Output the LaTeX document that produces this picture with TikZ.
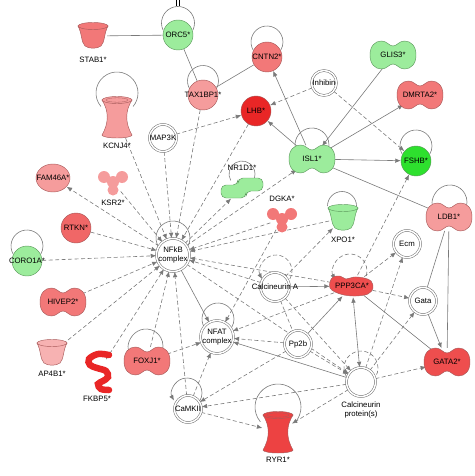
\documentclass[tikz,border=0pt]{standalone}
\usepackage{fontspec}
\setmainfont{Liberation Sans}
\usetikzlibrary{arrows.meta,shapes.geometric,calc}
\pgfdeclarelayer{background}
\pgfsetlayers{background,main}

\definecolor{edgegray}{HTML}{7A7A7A}
\definecolor{hubline}{HTML}{6E6E6E}
\definecolor{redline}{HTML}{A85A5A}
\definecolor{greenline}{HTML}{5E9A5E}
\definecolor{upA}{HTML}{F7B2B2}
\definecolor{upB}{HTML}{F59C9C}
\definecolor{upC}{HTML}{F27878}
\definecolor{upD}{HTML}{EE4E4E}
\definecolor{upE}{HTML}{E92626}
\definecolor{dnA}{HTML}{9CEC9C}
\definecolor{dnB}{HTML}{2EE02E}

\newcommand{\ov}[1]{\makebox[0pt]{#1}}

\tikzset{
    peanut/.pic={\path[pic actions] (-23,0) .. controls (-23,-9) and (-18,-14) .. (-11.5,-14) .. controls (-6,-14) and (-4,-9) .. (0,-9) .. controls (4,-9) and (6,-14) .. (11.5,-14) .. controls (18,-14) and (23,-9) .. (23,0) .. controls (23,9) and (18,14) .. (11.5,14) .. controls (6,14) and (4,9) .. (0,9) .. controls (-4,9) and (-6,14) .. (-11.5,14) .. controls (-18,14) and (-23,9) .. (-23,0) -- cycle;},
    cup/.pic={\path[pic actions] (-15,-10) .. controls (-11,-3) and (-12,6) .. (-8,10) .. controls (-4,13) and (4,13) .. (8,10) .. controls (12,6) and (11,-3) .. (15,-10) -- cycle;
        \path[pic actions] (0,-10) ellipse[x radius=15, y radius=3.5];},
    hourglass/.pic={\path[pic actions] (-15,-17) .. controls (-8,-6) and (-8,6) .. (-15,18) arc[start angle=180, end angle=0, x radius=15, y radius=3] .. controls (8,6) and (8,-6) .. (15,-17) -- cycle;
        \path[pic actions] (0,-17) ellipse[x radius=15, y radius=3.5];
        \path[draw=redline, line width=0.3pt] (0,-17) ellipse[x radius=11, y radius=2.2];},
    kinase/.pic={\path[pic actions] (-9,-5) circle[radius=6] (9,-5) circle[radius=6] (0,8) circle[radius=5.5] (0,0) circle[radius=6];},
    receptor/.pic={\path[pic actions, rounded corners=5pt] (-21,10) -- (-21,-3) -- (-4,-3) -- (-4,-10) -- (21,-10) -- (21,3) -- (4,3) -- (4,10) -- cycle;},
    phosphatase/.pic={\path[pic actions] plot[smooth cycle, tension=0.6] coordinates {(-22,-4) (-19,-9) (-12,-10) (-6,-7) (2,-9) (12,-8) (19,-5) (21,2) (16,8) (4,10) (-8,9) (-17,6) (-22,2)};},
    curl/.pic={\path[pic actions, line width=6.5pt, line cap=round] plot[smooth, tension=0.6] coordinates {(11,-17) (0,-18) (-9,-13) (-8,-7) (-1,-4) (8,-1) (10,5) (5,9) (0,12) (3,17) (11,18)};}
}

\begin{document}
\begin{tikzpicture}[x=1pt, y=-1pt,
        font=\fontsize{7.8}{8.6}\selectfont,
        link/.style={draw=edgegray, line width=0.6pt},
        act/.style={link, -{Latex[length=5.5pt, width=4.5pt]}},
        dact/.style={act, dash pattern=on 4pt off 2.5pt},
        dinh/.style={link, dash pattern=on 4pt off 2.5pt, -{Bar[width=6pt]}},
        dloop/.style={link, dash pattern=on 4pt off 2.5pt},
        hub/.style={circle, draw=hubline, line width=0.5pt, double=white, double distance=1.5pt, fill=white, minimum size=27pt, inner sep=0pt, align=center},
        up/.style={circle, fill=#1, draw=redline, line width=0.45pt, minimum size=30pt, inner sep=0pt},
        down/.style={circle, fill=#1, draw=greenline, line width=0.45pt, minimum size=30pt, inner sep=0pt},
        tf/.style={ellipse, minimum width=46pt, minimum height=28pt, inner sep=0pt},
        spot/.style={circle, minimum size=#1, inner sep=0pt},
        lbl/.style={inner sep=1pt, align=center}
    ]
    \useasboundingbox (0,0) rectangle (474,476);

    % shapes of the molecules
    \pic[fill=upC, draw=redline, line width=0.45pt] at (93,36) {cup};
    \pic[fill=upB, draw=redline, line width=0.45pt] at (117,117) {hourglass};
    \pic[fill=dnA, draw=greenline, line width=0.45pt] at (393,55) {peanut};
    \pic[fill=upC, draw=redline, line width=0.45pt] at (420,95) {peanut};
    \pic[fill=dnA, draw=greenline, line width=0.45pt] at (312,159) {peanut};
    \pic[fill=dnA, draw=greenline, line width=0.45pt] at (242,188) {receptor};
    \pic[fill=upB] at (113,182) {kinase};
    \pic[fill=upC] at (282,219) {kinase};
    \pic[fill=upB, draw=redline, line width=0.45pt] at (449,217) {peanut};
    \pic[fill=dnA, draw=greenline, line width=0.45pt] at (343,218) {cup};
    \pic[fill=upC, draw=redline, line width=0.45pt] at (63,302) {peanut};
    \pic[fill=upD, draw=redline, line width=0.45pt] at (352,286) {phosphatase};
    \pic[fill=upA, draw=redline, line width=0.45pt] at (52,353) {cup};
    \pic[draw=upE] at (98,372) {curl};
    \pic[fill=upC, draw=redline, line width=0.45pt] at (147,361) {peanut};
    \pic[fill=upD, draw=redline, line width=0.45pt] at (447,362) {peanut};
    \pic[fill=upD!70!upE, draw=redline, line width=0.45pt] at (278,432) {hourglass};

    % top row
    \node[down=dnA] (orc) at (178,35) {\ov{ORC5*}};
    \node[spot=28pt] (stab) at (93,36) {};
    \node[lbl] (stablbl) at (93,60) {STAB1*};
    \node[up=upB] (tax) at (203,95) {\ov{TAX1BP1*}};
    \node[up=upC] (cntn) at (267,57) {\ov{CNTN2*}};
    \node[hub, minimum size=25pt] (inh) at (324,83) {Inhibin};
    \node[tf] (glis) at (393,55) {\ov{GLIS3*}};
    \node[tf] (dmrta) at (420,95) {\ov{DMRTA2*}};
    \node[up=upE] (lhb) at (256,111) {\ov{LHB*}};
    \node[spot=32pt] (kcnj) at (117,117) {};
    \node[lbl] (kcnjlbl) at (117,146) {KCNJ4*};
    \node[hub] (mapk) at (163,138) {MAP3K};
    \node[tf] (isl) at (312,159) {\ov{ISL1*}};
    \node[down=dnB] (fshb) at (416,161) {\ov{FSHB*}};

    % middle
    \node[spot=30pt] (nrd) at (242,188) {};
    \node[lbl] (nrdlbl) at (242,168) {NR1D1*};
    \node[up=upB, ellipse, minimum width=34pt, minimum height=28pt] (fam) at (53,178) {\ov{FAM46A*}};
    \node[spot=24pt] (ksr) at (113,182) {};
    \node[lbl] (ksrlbl) at (113,203) {KSR2*};
    \node[spot=24pt] (dgka) at (282,219) {};
    \node[lbl] (dgkalbl) at (282,199) {DGKA*};
    \node[up=upC!60!upD] (rtkn) at (76,228) {\ov{RTKN*}};
    \node[down=dnA] (coro) at (27,261) {\ov{CORO1A*}};
    \node[tf, minimum width=44pt] (ldb) at (449,217) {\ov{LDB1*}};
    \node[spot=28pt] (xpo) at (343,218) {};
    \node[lbl] (xpolbl) at (343,240) {XPO1*};
    \node[hub, minimum size=30pt] (nfkb) at (173,255) {NFkB\\complex};
    \node[hub] (ecm) at (407,244) {Ecm};
    \node[tf] (hivep) at (63,302) {\ov{HIVEP2*}};
    \node[hub, minimum size=29pt] (cala) at (275,287) {\ov{Calcineurin A}};
    \node[ellipse, minimum width=44pt, minimum height=22pt, inner sep=0pt] (ppp) at (352,286) {\ov{PPP3CA*}};
    \node[hub] (gata) at (423,301) {Gata};

    % bottom
    \node[spot=28pt] (apb) at (52,353) {};
    \node[lbl] (apblbl) at (52,374) {AP4B1*};
    \node[hub] (ppb) at (298,344) {Pp2b};
    \node[hub, minimum size=30pt] (nfat) at (217,337) {NFAT\\complex};
    \node[tf] (foxj) at (147,361) {\ov{FOXJ1*}};
    \node[spot=30pt] (fkbp) at (98,372) {};
    \node[lbl] (fkbplbl) at (97,399) {FKBP5*};
    \node[hub] (camk) at (188,409) {CaMKII};
    \node[tf, minimum width=44pt] (gatb) at (447,362) {\ov{GATA2*}};
    \node[hub, minimum size=29pt] (calp) at (361,382) {};
    \node[lbl] (calplbl) at (361,410) {Calcineurin\\protein(s)};
    \node[spot=32pt] (ryr) at (278,432) {};
    \node[lbl] (ryrlbl) at (278,460) {RYR1*};

    \begin{pgfonlayer}{background}
        % self loops
        \draw[link] ($(orc)+(0,-12)+(155:16.5)$) arc[start angle=155, end angle=385, radius=16.5];
        \draw[line width=1.3pt] (176.3,0.5) -- (176.3,6.5) (179.7,0.5) -- (179.7,6.5);
        \draw[link] ($(tax)+(0,-14)+(150:15.5)$) arc[start angle=150, end angle=390, radius=15.5];
        \draw[link] ($(cntn)+(0,-15)+(150:16)$) arc[start angle=150, end angle=390, radius=16];
        \draw[link] ($(kcnj)+(0,-24)+(140:21)$) arc[start angle=140, end angle=400, radius=21];
        \draw[link] ($(isl)+(0,-14)+(150:17)$) arc[start angle=150, end angle=390, radius=17];
        \draw[link] ($(fshb)+(0,-15)+(150:16)$) arc[start angle=150, end angle=390, radius=16];
        \draw[link] ($(nrd)+(0,-14)+(150:13)$) arc[start angle=150, end angle=390, radius=13];
        \draw[link] ($(coro)+(0,-15)+(150:16)$) arc[start angle=150, end angle=390, radius=16];
        \draw[link, {Latex[length=5.5pt, width=4.5pt]}-] ($(ldb)+(1,-15)+(150:17)$) arc[start angle=150, end angle=390, radius=17];
        \draw[link] ($(xpo)+(-1,-12)+(180:14.5)$) arc[start angle=180, end angle=360, radius=14.5];
        \draw[link] ($(nfkb)+(0,-17)+(150:17)$) arc[start angle=150, end angle=390, radius=17];
        \draw[dloop, {Latex[length=5.5pt, width=4.5pt]}-] ($(cala)+(1,-16)+(150:16)$) arc[start angle=150, end angle=390, radius=16];
        \draw[dloop, {Latex[length=5.5pt, width=4.5pt]}-] ($(ppp)+(-2,-15)+(150:17)$) arc[start angle=150, end angle=390, radius=17];
        \draw[link] ($(nfat)+(1,-18)+(150:16)$) arc[start angle=150, end angle=390, radius=16];
        \draw[link, {Latex[length=5.5pt, width=4.5pt]}-] ($(foxj)+(-1,-15)+(150:17)$) arc[start angle=150, end angle=390, radius=17];
        \draw[link, {Latex[length=5.5pt, width=4.5pt]}-] ($(camk)+(-1,-16)+(150:15)$) arc[start angle=150, end angle=390, radius=15];
        \draw[dloop] ($(calp)+(0,-14)+(150:17)$) arc[start angle=150, end angle=390, radius=17];
        \draw[link] ($(ryr)+(0,-25)+(140:23)$) arc[start angle=140, end angle=400, radius=23];

        % top cluster
        \draw[link] (stab) -- (orc);
        \draw[link] (orc) -- (tax);
        \draw[link] (tax) -- (cntn);
        \draw[act] (isl) -- (cntn);
        \draw[act] (isl) -- (lhb);
        \draw[dact] (inh) -- (lhb);
        \draw[act] (glis) -- (isl);
        \draw[act] (isl) -- (dmrta);
        \draw[dact] (inh) -- (fshb);
        \draw[act] (isl) -- (fshb);
        \draw[link] (isl) -- (ldb);
        \draw[dact] (mapk) -- (lhb);

        % everything around NFkB
        \foreach \src in {lhb,tax,mapk,kcnj,ksr,rtkn,coro,hivep,apb,fkbp,foxj,camk,dgka,xpo,ppp,cala}
            \draw[dact] (\src) -- (nfkb);
        \draw[dact] (nfkb) -- (fam);
        \draw[dact] (nfkb) -- (isl);
        \draw[dact] (nfkb) -- (nrd);
        \draw[act] (nfkb) -- (nfat);
        \draw[dact] (nfkb) -- (calp);

        % calcineurin cluster
        \draw[dact] (cala) -- (xpo);
        \draw[dact] (dgka) -- (nfat);
        \draw[act] (cala) -- (ppp);
        \draw[dact] (ppp) -- (ecm);
        \draw[dact] (ppp) -- (gata);
        \draw[dact] (ppp) -- (fshb);
        \draw[link] (ppp) -- (gatb);
        \draw[act] (gata) -- (gatb);
        \draw[link] (ldb) -- (gata);
        \draw[link] (ldb) -- (gatb);
        \draw[dact] (calp) -- (ecm);
        \draw[dact] (calp) -- (gata);
        \draw[dact] (calp) -- (gatb);
        \draw[link, {Latex[length=5.5pt, width=4.5pt]}-{Latex[length=5.5pt, width=4.5pt]}] (ppp) -- (calp);
        \draw[act] (ppb) -- (ppp);
        \draw[dinh] (cala) -- (ppb);
        \draw[dact] (cala) -- (calp);
        \draw[dact] (ppb) -- (calp);
        \draw[dact] (ppb) -- (nfat);
        \draw[dact] (ppp) -- (nfat);
        \draw[act] (calp) -- (nfat);
        \draw[dact] (foxj) -- (nfat);
        \draw[dact] (camk) -- (nfat);
        \draw[dact] (ppb) -- (camk);
        \draw[dact] (calp) -- (camk);
        \draw[dact] (camk) -- (ryr);
        \draw[dact] (calp) -- (ryr);
    \end{pgfonlayer}

\end{tikzpicture}
\end{document}
